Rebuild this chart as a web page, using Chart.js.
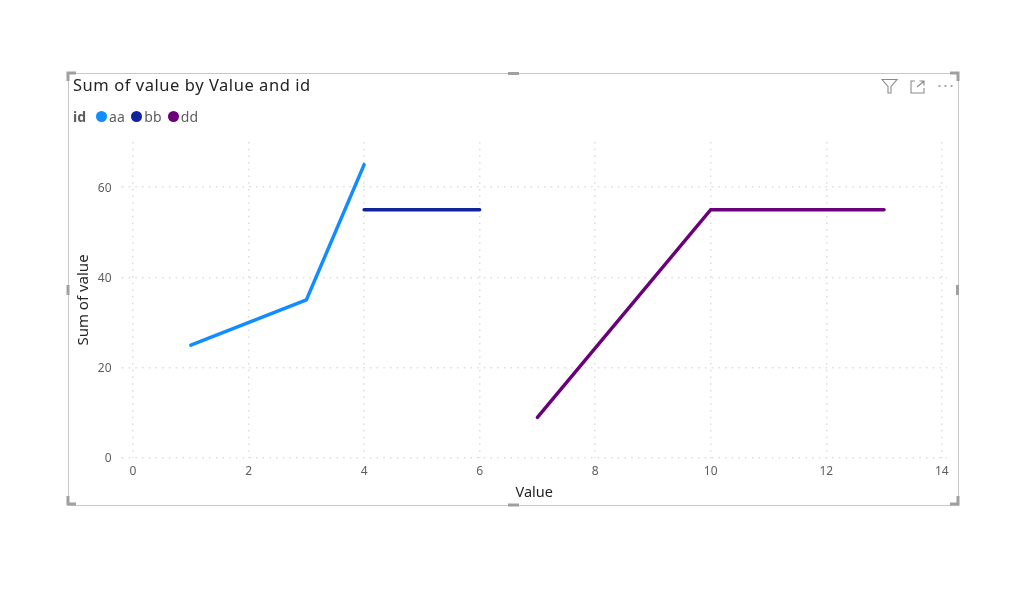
<!DOCTYPE html>
<html>
<head>
<meta charset="utf-8">
<title>Sum of value by Value and id</title>
<script src="https://cdn.jsdelivr.net/npm/chart.js@4/dist/chart.umd.min.js"></script>
<style>
	html, body { margin: 0; background: #fff; overflow: hidden; }
	body { width: 1026px; height: 600px; position: relative; font-family: 'Noto Sans', sans-serif; }
	#chart { position: absolute; left: 0; top: 0; }
	#frame { position: absolute; left: 68px; top: 73px; width: 889px; height: 431px; border: 1px solid #c8c8c8; }
	#title { position: absolute; left: 73px; top: 74px; font-size: 16.5px; letter-spacing: 0.55px; line-height: 22px; color: #252423; }
	#legend { position: absolute; left: 73px; top: 106px; height: 20px; display: flex; align-items: center; font-size: 14px; color: #605e5c; }
	#legend b { margin-right: 10px; font-size: 14px; }
	#legend i { width: 11px; height: 11px; border-radius: 50%; margin-right: 2px; }
	#legend span { margin-right: 6px; letter-spacing: 0.2px; }
	svg { position: absolute; left: 0; top: 0; }
</style>
</head>
<body>
<canvas id="chart" width="1026" height="600"></canvas>
<div id="frame"></div>
<div id="title">Sum of value by Value and id</div>
<div id="legend"><b>id</b></div>
<svg width="1026" height="600" fill="none" stroke="#8a8a8a">
	<!-- corner handles -->
	<path d="M68 81V73H76" stroke="#a0a0a0" stroke-width="3"/>
	<path d="M950 73H958V81" stroke="#a0a0a0" stroke-width="3"/>
	<path d="M68 496V504H76" stroke="#a0a0a0" stroke-width="3"/>
	<path d="M950 504H958V496" stroke="#a0a0a0" stroke-width="3"/>
	<!-- side handles -->
	<path d="M508 73.500H519M508 505H519M68 285V295M957.500 285V295" stroke="#a0a0a0" stroke-width="3"/>
	<!-- header icons -->
	<path d="M882 79.500H897L891 86.500V93H888V86.500Z" stroke-width="1.100"/>
	<path d="M915 81H911V93H924V88M917 87L924 81M919.500 81H924V85.500" stroke-width="1.100"/>
	<path d="M938.500 86H940.500M944.500 86H946.500M950.500 86H952.500" stroke-width="1.700"/>
</svg>
<script>
// values
const seriesNames = ['aa', 'bb', 'dd']
const seriesColors = ['#118DFF', '#12239E', '#6B007B']
const aaX = [1, 3, 4]
const aaY = [25, 35, 65]
const bbX = [4, 6]
const bbY = [55, 55]
const ddX = [7, 10, 13]
const ddY = [9, 55, 55]

const toPoints = (xs, ys) => xs.map((x, i) => ({ x: x, y: ys[i] }))
const allPoints = [toPoints(aaX, aaY), toPoints(bbX, bbY), toPoints(ddX, ddY)]

// legend row
const legendEl = document.getElementById('legend')
seriesNames.forEach((name, i) => {
	const dotEl = document.createElement('i')
	dotEl.style.background = seriesColors[i]
	const labelEl = document.createElement('span')
	labelEl.innerText = name
	legendEl.appendChild(dotEl)
	legendEl.appendChild(labelEl)
})

const gridStyle = { color: '#dcdcdc', lineWidth: 1.5, tickLength: 0 }

new Chart(document.getElementById('chart').getContext('2d'), {
	type: 'line',
	data: {
		datasets: seriesNames.map((name, i) => ({
			label: name,
			data: allPoints[i],
			borderColor: seriesColors[i],
			borderWidth: 3.5,
			borderCapStyle: 'round',
			borderJoinStyle: 'miter',
			pointRadius: 0,
			tension: 0,
			fill: false,
		})),
	},
	options: {
		responsive: false,
		animation: false,
		devicePixelRatio: 1,
		layout: { padding: { left: 75, right: 79, top: 142, bottom: 98 } },
		plugins: { legend: { display: false }, title: { display: false }, tooltip: { enabled: false } },
		scales: {
			x: {
				type: 'linear',
				min: -0.2,
				max: 14.09,
				grid: gridStyle,
				border: { display: false, dash: [1.5, 5.2] },
				afterFit: (scale) => { scale.height = 44 },
				ticks: {
					stepSize: 2,
					includeBounds: false,
					maxRotation: 0,
					padding: 6,
					color: '#605e5c',
					font: { family: 'Noto Sans', size: 12 },
				},
				title: {
					display: true,
					text: 'Value',
					color: '#252423',
					padding: { top: 4, bottom: 0 },
					font: { family: 'Noto Sans', size: 14.5 },
				},
			},
			y: {
				min: 0,
				max: 70,
				grid: gridStyle,
				border: { display: false, dash: [1.5, 5.2] },
				afterFit: (scale) => { scale.width = 46.500 },
				ticks: {
					stepSize: 20,
					includeBounds: false,
					padding: 10,
					labelOffset: 1,
					color: '#605e5c',
					font: { family: 'Noto Sans', size: 12 },
				},
				title: {
					display: true,
					text: 'Sum of value',
					color: '#252423',
					padding: 0,
					font: { family: 'Noto Sans', size: 15 },
				},
			},
		},
	},
})
</script>
</body>
</html>
